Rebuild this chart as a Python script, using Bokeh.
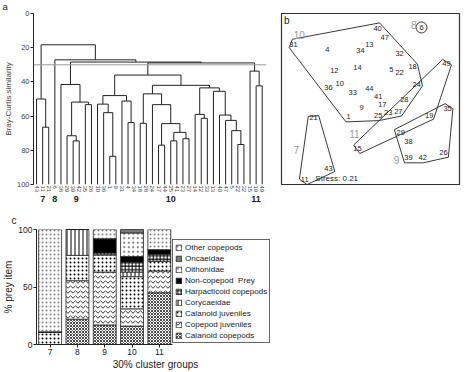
import math
from bokeh.plotting import figure
from bokeh.models import (Range1d, FixedTicker, LinearAxis, Span, Label, Legend,
                          LegendItem, ColumnDataSource)
from bokeh.layouts import column, row
from bokeh.embed import file_html
from bokeh.resources import INLINE
from bokeh.core.properties import value

FONT = "Liberation Sans"
INK = "#222222"

# ---------------- panel a : dendrogram data ----------------
leaf_labels = ["43", "11", "21", "6", "38", "29", "39", "42", "35", "26",
               "10", "36", "1", "9", "31", "4", "34", "18", "28", "24",
               "17", "44", "25", "41", "23", "27", "14", "12", "33", "13",
               "40", "47", "5", "22", "32", "15", "19", "49"]
# linkage: node ids 0..37 are leaves, merge k creates node 38+k
merge_left = [1, 0, 6, 5, 8, 41, 4, 12, 11, 10, 15, 14, 47, 17, 20, 22, 24, 53,
              52, 19, 51, 27, 26, 33, 32, 31, 30, 29, 60, 58, 50, 36, 35, 68,
              44, 3, 39]
merge_right = [2, 38, 7, 40, 9, 42, 43, 13, 45, 46, 16, 48, 49, 18, 21, 23, 25, 54,
               55, 56, 57, 28, 59, 34, 61, 62, 63, 64, 65, 66, 67, 37, 69, 70,
               71, 72, 73]
merge_height = [66.5, 50.0, 74.5, 71.5, 53.3, 51.8, 41.5, 83.5, 58.0, 53.0, 63.8,
                51.2, 48.0, 64.2, 77.0, 74.5, 73.2, 69.5, 64.4, 53.3, 47.0, 61.3,
                59.0, 76.6, 68.5, 62.5, 59.4, 45.5, 43.5, 42.0, 36.0, 42.3, 33.7,
                28.9, 28.4, 27.1, 18.3]
cluster_groups = ["7", "8", "9", "10", "11"]
cluster_sizes = [3, 1, 6, 25, 3]
cut_level = 30

# ---------------- panel b : NMDS data ----------------
nmds_labels = ["31", "4", "40", "47", "13", "34", "32", "18", "5", "22", "14", "12",
               "36", "10", "33", "44", "24", "41", "28", "17", "9", "1", "25", "23",
               "27", "19", "35", "49", "21", "11", "43", "15", "29", "38", "39",
               "42", "26", "6"]
nmds_x = [-1.30, -0.73, 0.12, 0.24, -0.02, -0.17, 0.49, 0.71, 0.35, 0.49, -0.22, -0.61,
          -0.71, -0.52, -0.30, -0.02, 0.78, 0.13, 0.57, 0.20, -0.15, -0.37, 0.13, 0.30,
          0.47, 0.99, 1.30, 1.28, -0.96, -1.11, -0.71, -0.22, 0.51, 0.64, 0.64,
          0.88, 1.23, 0.86]
nmds_y = [0.99, 0.91, 1.26, 1.11, 0.99, 0.88, 0.83, 0.61, 0.57, 0.51, 0.59, 0.54,
          0.25, 0.32, 0.17, 0.24, 0.30, 0.10, 0.05, -0.03, -0.08, -0.24, -0.22, -0.17,
          -0.15, -0.22, -0.10, 0.67, -0.25, -1.32, -1.13, -0.79, -0.51, -0.67, -0.94,
          -0.94, -0.86, 1.28]
nmds_group = ["10"] * 25 + ["11", "9", "11"] + ["7", "7", "7", "11"] + ["9"] * 5 + ["8"]
stress = 0.21

# ---------------- panel c : diet composition ----------------
bar_groups = ["7", "8", "9", "10", "11"]
calanoid_copepods = [0, 22, 17, 16, 45]
copepod_juveniles = [0, 33.5, 46, 15, 19]
calanoid_juveniles = [11, 22, 15, 28, 8.5]
corycaeidae = [0, 22.5, 0, 4, 0]
harpacticoid_copepods = [0, 0, 1.5, 8.5, 6]
non_copepod_prey = [0, 0, 12.5, 5, 4]
oithonidae = [0, 0, 0, 20.5, 0]
oncaeidae = [0, 0, 0, 3, 0]
other_copepods = [89, 0, 8, 0, 17.5]

# =====================================================================
# panel a
n = len(leaf_labels)
node_x = [float(i) for i in range(n)]
node_h = [100.0] * n
x0, y0, x1, y1 = [], [], [], []
for l, r, h in zip(merge_left, merge_right, merge_height):
    for c in (l, r):
        x0.append(node_x[c]); y0.append(node_h[c]); x1.append(node_x[c]); y1.append(h)
    x0.append(node_x[l]); y0.append(h); x1.append(node_x[r]); y1.append(h)
    node_x.append((node_x[l] + node_x[r]) / 2)
    node_h.append(h)

pa = figure(width=278, height=204, output_backend="svg", toolbar_location=None,
            x_range=Range1d(-0.5, 37.7), y_range=Range1d(100, 0),
            min_border_left=4, min_border_right=12, min_border_top=12, min_border_bottom=19)
pa.outline_line_color = None
pa.grid.grid_line_color = None
pa.segment(x0=x0, y0=y0, x1=x1, y1=y1, line_color=INK, line_width=1)
pa.add_layout(Span(location=cut_level, dimension="width", line_color="#9a9a9a", line_width=1))

pa.title.text = "a"
pa.title.align = "left"
pa.title.offset = -31
pa.title.standoff = 0
pa.title.vertical_align = "top"
pa.title.text_font = FONT
pa.title.text_font_size = "9.5px"
pa.title.text_font_style = "normal"
pa.title.text_color = INK

pa.yaxis.ticker = FixedTicker(ticks=[0, 20, 40, 60, 80, 100])
pa.yaxis.axis_label = "Bray-Curtis similarity"
pa.yaxis.axis_label_text_font = FONT
pa.yaxis.axis_label_text_font_style = "normal"
pa.yaxis.axis_label_text_font_size = "8px"
pa.yaxis.axis_label_standoff = 1
pa.yaxis.major_label_text_font = FONT
pa.yaxis.major_label_text_font_size = "7.5px"
pa.yaxis.major_label_standoff = 1
pa.yaxis.major_tick_out = 3
pa.yaxis.major_tick_in = 0
pa.yaxis.minor_tick_line_color = None
pa.yaxis.axis_line_color = INK
pa.yaxis.major_tick_line_color = INK

pa.xaxis.ticker = FixedTicker(ticks=list(range(n)))
pa.xaxis.major_label_overrides = {i: lab for i, lab in enumerate(leaf_labels)}
pa.xaxis.major_label_orientation = "vertical"
pa.xaxis.major_label_text_font = FONT
pa.xaxis.major_label_text_font_size = "6px"
pa.xaxis.major_label_standoff = 1
pa.xaxis.major_tick_out = 0
pa.xaxis.major_tick_in = 0
pa.xaxis.minor_tick_out = 0
pa.xaxis.axis_line_color = None
pa.xaxis.major_tick_line_color = None
pa.xaxis.minor_tick_line_color = None

centers = []
start = 0
for s in cluster_sizes:
    centers.append(start + (s - 1) / 2)
    start += s
gaxis = LinearAxis(ticker=FixedTicker(ticks=centers),
                   major_label_overrides={c: g for c, g in zip(centers, cluster_groups)},
                   axis_line_color=None, major_tick_line_color=None,
                   minor_tick_line_color=None, major_tick_out=0, major_tick_in=0,
                   minor_tick_out=0, major_label_standoff=0,
                   major_label_text_font=FONT, major_label_text_font_size="9px",
                   major_label_text_font_style="bold", major_label_text_color=INK)
pa.add_layout(gaxis, "below")

# =====================================================================
# panel b
pb = figure(width=187, height=204, output_backend="svg", toolbar_location=None,
            x_range=Range1d(-1.501, 1.501), y_range=Range1d(-1.40, 1.518),
            x_axis_location=None, y_axis_location=None,
            min_border_left=3, min_border_right=6, min_border_top=12, min_border_bottom=19)
pb.grid.grid_line_color = None
pb.outline_line_color = "#333333"
pb.outline_line_width = 1.2


def convex_hull(pts):
    pts = sorted(set(pts))
    if len(pts) < 3:
        return pts
    def cross(o, a, b):
        return (a[0] - o[0]) * (b[1] - o[1]) - (a[1] - o[1]) * (b[0] - o[0])
    lower, upper = [], []
    for p in pts:
        while len(lower) >= 2 and cross(lower[-2], lower[-1], p) <= 0:
            lower.pop()
        lower.append(p)
    for p in reversed(pts):
        while len(upper) >= 2 and cross(upper[-2], upper[-1], p) <= 0:
            upper.pop()
        upper.append(p)
    return lower[:-1] + upper[:-1]


def offset_polygon(poly, d, limit=1.4):
    """Outward offset of a CCW polygon; sharp corners are bevelled."""
    out = []
    m = len(poly)
    normals = []
    for i in range(m):
        ax, ay = poly[i]
        bx, by = poly[(i + 1) % m]
        dx, dy = bx - ax, by - ay
        L = math.hypot(dx, dy)
        normals.append((dy / L, -dx / L))
    for i in range(m):
        n1 = normals[i - 1]
        n2 = normals[i]
        c = n1[0] * n2[0] + n1[1] * n2[1]
        f = d / (1 + c)
        mx, my = (n1[0] + n2[0]) * f, (n1[1] + n2[1]) * f
        px, py = poly[i]
        if math.hypot(mx, my) > limit * d:
            out.append((px + n1[0] * d, py + n1[1] * d))
            out.append((px + n2[0] * d, py + n2[1] * d))
        else:
            out.append((px + mx, py + my))
    return out


hx, hy = [], []
for g in cluster_groups:
    pts = [(x, y) for x, y, gg in zip(nmds_x, nmds_y, nmds_group) if gg == g]
    if len(pts) >= 3:
        poly = offset_polygon(convex_hull(pts), 0.09)
        hx.append([p[0] for p in poly])
        hy.append([p[1] for p in poly])
pb.patches(xs=hx, ys=hy, fill_color=None, line_color=INK, line_width=0.9)

single = [(x, y) for x, y, gg in zip(nmds_x, nmds_y, nmds_group) if gg == "8"]
pb.scatter(x=[p[0] for p in single], y=[p[1] for p in single], size=11,
           marker="circle", fill_color=None, line_color=INK, line_width=0.9)

pb.text(x=nmds_x, y=nmds_y, text=nmds_labels, text_font=value(FONT),
        text_font_size="7.5px", text_align="center", text_baseline="middle",
        text_color=INK)

# group labels (grey)
grp_lab_x = [-1.20, 0.73, -1.25, -0.27, 0.44]
grp_lab_y = [1.15, 1.33, -0.81, -0.54, -0.99]
grp_lab_t = ["10", "8", "7", "11", "9"]
pb.text(x=grp_lab_x, y=grp_lab_y, text=grp_lab_t, text_font=value(FONT),
        text_font_size="10px", text_align="center", text_baseline="middle",
        text_color="#9a9a9a")
pb.add_layout(Label(x=-0.93, y=-1.30, text=f"Stress: {stress}", text_font=FONT,
                    text_font_size="8px", text_baseline="middle", text_color=INK))
pb.add_layout(Label(x=-1.46, y=1.40, text="b", text_font=FONT,
                    text_font_size="10px", text_baseline="middle", text_color=INK))

# =====================================================================
# panel c
xpos = list(range(len(bar_groups)))
pc = figure(width=276, height=168, output_backend="svg", toolbar_location=None,
            x_range=Range1d(-0.5, 8.22), y_range=Range1d(0, 100),
            min_border_left=35, min_border_right=2, min_border_top=25, min_border_bottom=24)
pc.outline_line_color = None
pc.grid.grid_line_color = None

layers = [
    ("Calanoid copepods", calanoid_copepods, "white", "x", 3.0, 0.7, 1.0),
    ("Copepod juveniles", copepod_juveniles, "white", "v", 5.0, 0.8, 1.0),
    ("Calanoid juveniles", calanoid_juveniles, "white", ".", 4.0, 0.9, 1.0),
    ("Corycaeidae", corycaeidae, "white", "|", 4.0, 1.0, 1.0),
    ("Harpacticoid copepods", harpacticoid_copepods, "white", "+", 3.5, 1.0, 1.0),
    ("Non-copepod  Prey", non_copepod_prey, "black", " ", 4.0, 1.0, 1.0),
    ("Oithonidae", oithonidae, "white", ".", 4.5, 0.3, 0.5),
    ("Oncaeidae", oncaeidae, "#7a7a7a", " ", 4.0, 1.0, 1.0),
    ("Other copepods", other_copepods, "white", ".", 4.0, 0.3, 0.5),
]
bottom = [0.0] * len(bar_groups)
items = []
for name, vals, fill, hatch, scale, weight, halpha in layers:
    top = [b + v for b, v in zip(bottom, vals)]
    src = ColumnDataSource(dict(x=xpos, bottom=bottom, top=top))
    r = pc.vbar(x="x", bottom="bottom", top="top", width=0.84, source=src,
                fill_color=fill, line_color=INK, line_width=0.8,
                hatch_pattern=hatch, hatch_scale=scale, hatch_weight=weight,
                hatch_color="black", hatch_alpha=halpha)
    items.append(LegendItem(label=name, renderers=[r]))
    bottom = top

legend = Legend(items=list(reversed(items)), location=(136, 1), margin=0, padding=2,
                spacing=1, label_height=10, glyph_height=7, glyph_width=7,
                label_standoff=3, label_text_font=FONT, label_text_font_size="8.1px",
                label_text_color=INK, border_line_color="#666666", border_line_width=1,
                border_line_alpha=1.0, background_fill_alpha=1.0)
pc.add_layout(legend)

pc.yaxis.ticker = FixedTicker(ticks=[0, 50, 100])
pc.yaxis.axis_label = "% prey item"
pc.xaxis.ticker = FixedTicker(ticks=xpos)
pc.xaxis.major_label_overrides = {i: g for i, g in zip(xpos, bar_groups)}
pc.xaxis.bounds = (-0.5, len(bar_groups) - 0.5)
pc.xaxis.axis_label = "30% cluster groups"
for ax in (pc.xaxis, pc.yaxis):
    ax.axis_label_text_font = FONT
    ax.axis_label_text_font_style = "normal"
    ax.axis_label_text_font_size = "10px"
    ax.axis_label_text_color = INK
    ax.axis_label_standoff = 1
    ax.major_label_text_font = FONT
    ax.major_label_text_font_size = "8.5px"
    ax.major_label_text_color = INK
    ax.major_label_standoff = 1
    ax.major_tick_out = 3
    ax.major_tick_in = 0
    ax.minor_tick_out = 0
    ax.minor_tick_line_color = None
    ax.axis_line_color = INK
    ax.major_tick_line_color = INK

pc.title.text = "c"
pc.title.align = "left"
pc.title.offset = -25
pc.title.standoff = 8
pc.title.text_font = FONT
pc.title.text_font_size = "10px"
pc.title.text_font_style = "normal"
pc.title.text_color = INK

layout = column(row(pa, pb), pc)
open("out.html", "w").write(file_html(layout, INLINE))
